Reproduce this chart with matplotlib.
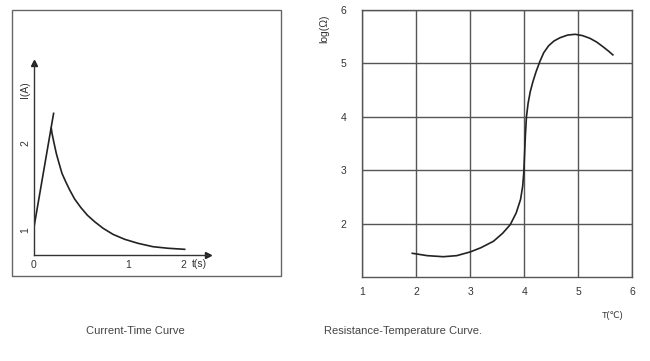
import numpy as np
import matplotlib.pyplot as plt
from matplotlib.patches import Rectangle

plt.rcParams['font.family'] = ['Liberation Sans', 'DejaVu Sans']

# ---- data ----
# Current-time curve: linear rise then decay
rise_t = [0.0, 0.213]
rise_i = [1.0, 2.35]
decay_t = [0.187, 0.195, 0.216, 0.240, 0.268, 0.30, 0.339, 0.381, 0.433, 0.497, 0.567,
           0.644, 0.732, 0.837, 0.96, 1.1, 1.258, 1.416, 1.591]
decay_i = [2.17, 2.11, 2.0, 1.88, 1.77, 1.65, 1.555, 1.46, 1.356, 1.26, 1.17,
           1.095, 1.02, 0.95, 0.893, 0.847, 0.808, 0.79, 0.778]
t_tick_pos = [0, 1, 1.58]
t_tick_lab = ['0', '1', '2']
i_tick_pos = [1, 2]
i_tick_lab = ['1', '2']

# Resistance-temperature curve
temp = [1.926, 2.2, 2.5, 2.75, 3.0, 3.2, 3.43, 3.6, 3.74, 3.85, 3.93, 3.97, 3.99,
        4.005, 4.02, 4.04, 4.07, 4.11, 4.16, 4.22, 4.29, 4.36, 4.45, 4.55, 4.66,
        4.8, 4.94, 5.08, 5.215, 5.34, 5.46, 5.56, 5.64]
logr = [1.444, 1.40, 1.38, 1.40, 1.47, 1.55, 1.67, 1.82, 1.98, 2.2, 2.45, 2.7, 2.95,
        3.3, 3.65, 4.0, 4.25, 4.47, 4.66, 4.85, 5.04, 5.2, 5.33, 5.42, 5.48,
        5.53, 5.545, 5.52, 5.47, 5.4, 5.31, 5.23, 5.16]
T_ticks = [1, 2, 3, 4, 5, 6]
R_ticks = [2, 3, 4, 5, 6]

W, H = 650, 361
fig = plt.figure(figsize=(W / 100, H / 100), dpi=100)


def px_axes(x0, y0, x1, y1):
    return fig.add_axes([x0 / W, 1 - y1 / H, (x1 - x0) / W, (y1 - y0) / H])


txt = '#333333'
line_c = '#222222'
fs = 7.5

# ---- left panel frame ----
fig.patches.append(Rectangle((12 / W, 1 - 276 / H), (280.5 - 12) / W, (276 - 10) / H,
                             transform=fig.transFigure, fill=False,
                             edgecolor='#666666', lw=1.0))

ax = px_axes(33.5, 63, 208, 255)
ax.set_xlim(0, (208 - 33.5) / 95)
ax.set_ylim(1 - 25 / 87, 1 + 167 / 87)
ax.patch.set_alpha(0)
for s in ['top', 'right']:
    ax.spines[s].set_visible(False)
for s in ['left', 'bottom']:
    ax.spines[s].set_color('#333333')
    ax.spines[s].set_linewidth(1.0)
ax.plot(rise_t, rise_i, color=line_c, lw=1.2, solid_capstyle='butt')
ax.plot(decay_t, decay_i, color=line_c, lw=1.2, solid_joinstyle='round')
ax.plot([1], [0], '>', color='#222222', ms=5, transform=ax.transAxes, clip_on=False)
ax.plot([0], [1], '^', color='#222222', ms=5, transform=ax.transAxes, clip_on=False)
ax.set_xticks(t_tick_pos)
ax.set_xticklabels(t_tick_lab)
ax.set_yticks(i_tick_pos)
ax.set_yticklabels(i_tick_lab, rotation=90, va='center')
ax.tick_params(axis='x', length=0, pad=3.5, labelsize=fs, labelcolor=txt)
ax.tick_params(axis='y', length=0, pad=2.5, labelsize=fs, labelcolor=txt)
fig.text(199 / W, 1 - 264 / H, 't(s)', fontsize=fs, color=txt, ha='center', va='center')
fig.text(25 / W, 1 - 90 / H, 'I(A)', fontsize=fs, color=txt, ha='center', va='center',
         rotation=90)

# ---- right panel ----
ax2 = px_axes(362.3, 10, 632.3, 277)
ax2.set_xlim(1, 6)
ax2.set_ylim(1, 6)
for s in ax2.spines.values():
    s.set_color('#555555')
    s.set_linewidth(1.0)
ax2.set_xticks(T_ticks)
ax2.set_yticks(R_ticks)
ax2.grid(True, color='#555555', lw=1.0)
ax2.tick_params(axis='x', length=0, pad=7, labelsize=fs, labelcolor=txt)
ax2.tick_params(axis='y', length=0, pad=11.5, labelsize=fs, labelcolor=txt)
ax2.plot(temp, logr, color=line_c, lw=1.2, solid_joinstyle='round')
fig.text(324 / W, 1 - 29 / H, 'log(Ω)', fontsize=7.5, color=txt, ha='center',
         va='center', rotation=90)
fig.text(613 / W, 1 - 315 / H, 'T(℃)', fontsize=6.5, color=txt, ha='center', va='center')

# ---- captions ----
fig.text(135 / W, 1 - 331 / H, 'Current-Time Curve', fontsize=8, color='#444444',
         ha='center', va='center')
fig.text(403 / W, 1 - 331 / H, 'Resistance-Temperature Curve.', fontsize=8,
         color='#444444', ha='center', va='center')

fig.savefig('out.png', dpi=100)
